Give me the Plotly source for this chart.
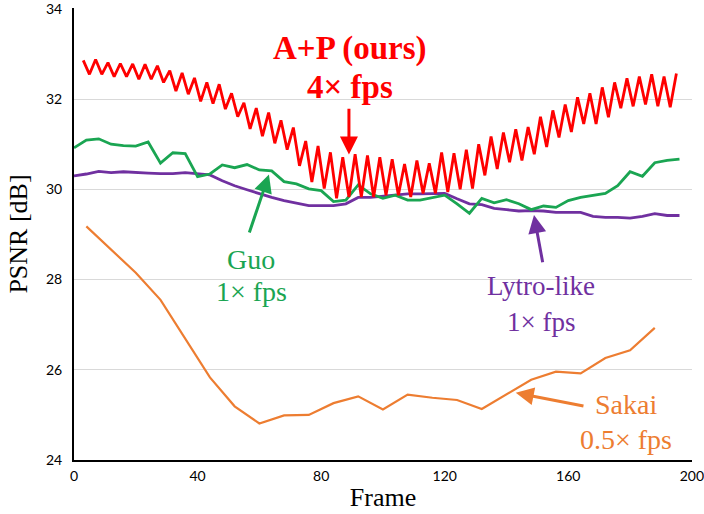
import plotly.graph_objects as go

# ---------------- data ----------------
red_frames = [3, 5, 7, 9, 11, 13, 15, 17, 19, 21, 23, 25, 27, 29, 31, 33, 35, 37, 39, 41,
              43, 45, 47, 49, 51, 53, 55, 57, 59, 61, 63, 65, 67, 69, 71, 73, 75, 77, 79, 81,
              83, 85, 87, 89, 91, 93, 95, 97, 99, 101, 103, 105, 107, 109, 111, 113, 115, 117,
              119, 121, 123, 125, 127, 129, 131, 133, 135, 137, 139, 141, 143, 145, 147, 149,
              151, 153, 155, 157, 159, 161, 163, 165, 167, 169, 171, 173, 175, 177, 179, 181,
              183, 185, 187, 189, 191, 193, 195]
red_psnr = [32.86, 32.55, 32.88, 32.55, 32.81, 32.50, 32.79, 32.50, 32.78, 32.44,
            32.77, 32.44, 32.74, 32.37, 32.63, 32.18, 32.58, 32.11, 32.47, 31.95,
            32.37, 31.90, 32.33, 31.78, 32.13, 31.61, 31.92, 31.34, 31.80, 31.18,
            31.70, 31.02, 31.53, 30.88, 31.37, 30.52, 31.07, 30.16, 30.96, 30.02,
            30.82, 29.80, 30.71, 29.83, 30.78, 29.83, 30.75, 29.83, 30.71, 29.87,
            30.67, 29.87, 30.56, 29.83, 30.64, 29.91, 30.58, 29.91, 30.82, 29.94,
            30.80, 30.00, 30.88, 30.02, 31.00, 30.31, 31.17, 30.45, 31.26, 30.60,
            31.33, 30.64, 31.38, 30.78, 31.61, 30.94, 31.75, 31.15, 31.88, 31.27,
            32.04, 31.45, 32.13, 31.45, 32.26, 31.60, 32.37, 31.80, 32.46, 31.84,
            32.50, 31.88, 32.55, 31.84, 32.50, 31.82, 32.57]

base_frames = [0, 4, 8, 12, 16, 20, 24, 28, 32, 36, 40, 44, 48, 52, 56, 60, 64, 68, 72, 76,
               80, 84, 88, 92, 96, 100, 104, 108, 112, 116, 120, 124, 128, 132, 136, 140,
               144, 148, 152, 156, 160, 164, 168, 172, 176, 180, 184, 188, 192, 196]
guo_psnr = [30.92, 31.09, 31.12, 31.00, 30.97, 30.96, 31.05, 30.58, 30.81, 30.79,
            30.28, 30.34, 30.54, 30.48, 30.55, 30.43, 30.41, 30.17, 30.12, 30.01,
            29.97, 29.73, 29.76, 30.10, 29.90, 29.80, 29.87, 29.76, 29.76, 29.82,
            29.87, 29.68, 29.47, 29.80, 29.70, 29.77, 29.68, 29.55, 29.63, 29.60,
            29.75, 29.82, 29.86, 29.91, 30.08, 30.39, 30.29, 30.59, 30.64, 30.67]
lytro_psnr = [30.30, 30.34, 30.40, 30.37, 30.39, 30.37, 30.36, 30.35, 30.35, 30.37,
              30.35, 30.32, 30.19, 30.08, 29.99, 29.90, 29.82, 29.75, 29.69, 29.64,
              29.64, 29.64, 29.68, 29.82, 29.82, 29.85, 29.87, 29.90, 29.90, 29.90,
              29.91, 29.79, 29.68, 29.66, 29.58, 29.55, 29.52, 29.53, 29.52, 29.49,
              29.49, 29.49, 29.40, 29.38, 29.38, 29.36, 29.40, 29.46, 29.42, 29.42]

sakai_frames = [4, 12, 20, 28, 36, 44, 52, 60, 68, 76, 84, 92, 100, 108, 116, 124,
                132, 140, 148, 156, 164, 172, 180, 188]
sakai_psnr = [29.18, 28.67, 28.15, 27.55, 26.68, 25.83, 25.19, 24.81, 24.99, 25.00,
              25.26, 25.41, 25.12, 25.45, 25.38, 25.33, 25.13, 25.46, 25.78, 25.96,
              25.92, 26.26, 26.43, 26.93]

x_ticks = [0, 40, 80, 120, 160, 200]
y_ticks = [24, 26, 28, 30, 32, 34]

RED = "#ff0000"
GREEN = "#1aa552"
PURPLE = "#7030a0"
ORANGE = "#ed7d31"
SERIF = "Liberation Serif"

fig = go.Figure()
fig.add_trace(go.Scatter(x=sakai_frames, y=sakai_psnr, mode="lines",
                         line=dict(color=ORANGE, width=2.2), name="Sakai"))
fig.add_trace(go.Scatter(x=base_frames, y=lytro_psnr, mode="lines",
                         line=dict(color=PURPLE, width=2.8), name="Lytro-like"))
fig.add_trace(go.Scatter(x=base_frames, y=guo_psnr, mode="lines",
                         line=dict(color=GREEN, width=2.8), name="Guo"))
fig.add_trace(go.Scatter(x=red_frames, y=red_psnr, mode="lines",
                         line=dict(color=RED, width=2.8), name="A+P (ours)"))

def label(x, y, text, color, size=28):
    fig.add_annotation(x=x, y=y, xref="x", yref="y", text=text, showarrow=False,
                       font=dict(family=SERIF, size=size, color=color),
                       xanchor="center", yanchor="middle")

def arrow(x, y, ax, ay, color):
    fig.add_annotation(x=x, y=y, ax=ax, ay=ay, xref="x", yref="y", axref="x", ayref="y",
                       text="", showarrow=True, arrowhead=2, arrowsize=1.2,
                       arrowwidth=3, arrowcolor=color)

label(89.3, 33.12, "<b>A+P (ours)</b>", RED, size=33)
label(89.3, 32.27, "<b>4× fps</b>", RED, size=33)
arrow(89.0, 30.77, 89.0, 31.82, RED)

label(57.3, 28.45, "Guo", GREEN)
label(57.3, 27.73, "1× fps", GREEN)
arrow(63.1, 30.33, 56.6, 29.01, GREEN)

label(151.1, 27.85, "Lytro-like", PURPLE, size=27)
label(151.1, 27.06, "1× fps", PURPLE, size=27)
arrow(148.9, 29.43, 151.8, 28.35, PURPLE)

label(178.6, 25.23, "Sakai", ORANGE)
label(178.6, 24.45, "0.5× fps", ORANGE)
arrow(143.0, 25.49, 165.4, 25.19, ORANGE)

fig.update_layout(
    width=704, height=514,
    margin=dict(l=74, r=12, t=8, b=54, autoexpand=False),
    paper_bgcolor="white", plot_bgcolor="white",
    showlegend=False,
    xaxis=dict(range=[0, 200.05], tickvals=x_ticks, showgrid=False, zeroline=False,
               showline=True, linecolor="black", linewidth=2, ticks="",
               ticklabelstandoff=2, ticklabeloverflow="allow",
               tickfont=dict(family="Lato", size=14, color="black"),
               title=dict(text="Frame", font=dict(family=SERIF, size=26, color="black"),
                          standoff=5)),
    yaxis=dict(range=[24, 34.02], tickvals=y_ticks, showgrid=True, gridcolor="#d9d9d9",
               gridwidth=1, zeroline=False, showline=True, linecolor="black", linewidth=2,
               ticks="", ticklabelstandoff=7, ticklabeloverflow="allow",
               tickfont=dict(family="Lato", size=14, color="black"),
               title=dict(text="PSNR [dB]", font=dict(family=SERIF, size=26, color="black"),
                          standoff=11)),
)

fig.write_html("out.html", config={"displayModeBar": False},
               post_script="document.body.style.margin='0';document.body.style.overflow='hidden';")
